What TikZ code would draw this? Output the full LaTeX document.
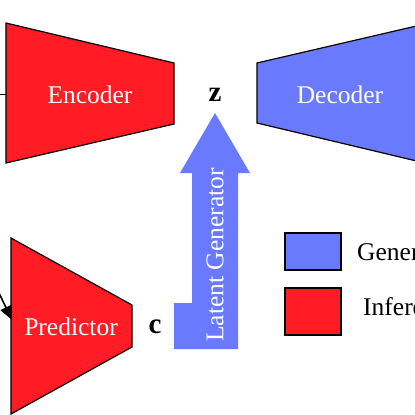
\documentclass[tikz,border=0pt]{standalone}
\usepackage{fontspec}
\setmainfont{Liberation Serif}
\usetikzlibrary{arrows.meta}
\definecolor{genblue}{HTML}{6A7AFF}
\definecolor{infred}{HTML}{FF1C24}
\tikzset{
  inferbox/.style={draw=black,line width=1.2pt,fill=infred},
  genbox/.style={draw=black,line width=1.2pt,fill=genblue},
  blocktext/.style={text=white,inner sep=0pt,font=\fontsize{25.5bp}{30bp}\selectfont},
  vartext/.style={inner sep=0pt,font=\fontsize{29bp}{32bp}\selectfont},
  keybox/.style={draw=black,line width=1.2pt,minimum width=56bp,inner sep=0pt},
  keytext/.style={anchor=west,inner sep=0pt,font=\fontsize{25.5bp}{30bp}\selectfont},
  flow/.style={-{Triangle[length=14bp,width=12bp]},line width=1.6pt,draw=black}
}
\begin{document}
\begin{tikzpicture}[x=1bp,y=-1bp]
  \useasboundingbox (0,0) rectangle (415,415);
  \clip (0,0) rectangle (415,415);
  % encoder / decoder
  \draw[inferbox] (6,23) -- (174,63) -- (174,124) -- (6,163) -- cycle;
  \node[blocktext] (encoder) at (90,95) {Encoder};
  \draw[genbox] (257,63) -- (425,24) -- (425,163) -- (257,123) -- cycle;
  \node[blocktext] (decoder) at (340,95) {Decoder};
  \node[vartext] (z) at (215,95) {$\mathbf{z}$};
  % predictor
  \draw[inferbox] (11,238) -- (132,305) -- (132,347) -- (11,414) -- cycle;
  \node[blocktext] (predictor) at (71,327) {Predictor};
  \node[vartext] (c) at (155,327) {$\mathbf{c}$};
  % latent generator arrow
  \fill[genblue] (215,113) -- (250,173) -- (238,173) -- (238,349) -- (174,349)
    -- (174,303) -- (192,303) -- (192,173) -- (180,173) -- cycle;
  \node[blocktext,rotate=90] (latentgen) at (215,255) {Latent Generator};
  % inputs
  \coordinate (xin) at (-20,94);
  \coordinate (encin) at (6,94);
  \draw[line width=1pt] (xin) -- (encin);
  \coordinate (yin) at (-14,266);
  \coordinate (predin) at (12,320);
  \draw[flow] (yin) -- (predin);
  % legend
  \node[keybox,fill=genblue,minimum height=37bp] (genkey) at (313,251.5) {};
  \node[keybox,fill=infred,minimum height=47bp] (infkey) at (313,311.5) {};
  \node[keytext] (genlabel) at (357,252) {Generative};
  \node[keytext] (inflabel) at (363,307) {Inference};
\end{tikzpicture}
\end{document}
